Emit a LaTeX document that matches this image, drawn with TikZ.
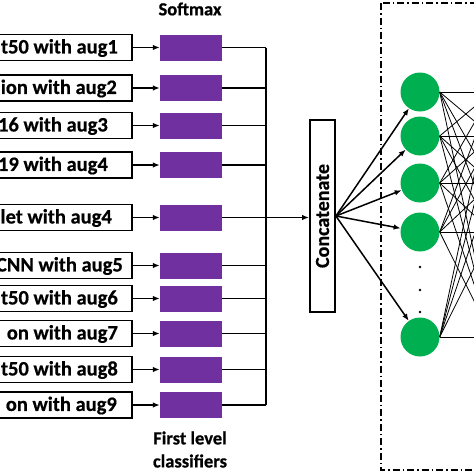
\documentclass[tikz,border=0pt]{standalone}
\usepackage{fontspec}
\setmainfont{Carlito}[BoldFeatures={FakeBold=0.6}]
\usetikzlibrary{arrows.meta}
\definecolor{softpurple}{HTML}{7030A0}
\definecolor{neurongreen}{HTML}{00B050}
\begin{document}
\begin{tikzpicture}[x=1pt,y=-1pt,
  inbox/.style={draw=black,line width=1.8pt,minimum width=220pt,minimum height=26pt,inner sep=0pt,anchor=east},
  boxtext/.style={anchor=east,inner sep=0pt,font=\fontsize{20.5}{24}\selectfont\bfseries},
  soft/.style={fill=softpurple,minimum width=62pt,minimum height=26pt,inner sep=0pt},
  arr/.style={line width=1.5pt,-{Latex[length=7pt,width=5.5pt]}},
  busline/.style={line width=1.5pt},
  neuron/.style={circle,fill=neurongreen,minimum size=39pt,inner sep=0pt},
  dotnode/.style={circle,fill=black,minimum size=2.6pt,inner sep=0pt},
  fc/.style={line width=0.8pt},
  lbl/.style={font=\fontsize{18.5}{22}\selectfont\bfseries,inner sep=0pt},
  dashdotbox/.style={line width=1.8pt,dash pattern=on 7pt off 3pt on 1.5pt off 3pt}
]
\useasboundingbox (0,0) rectangle (474,474);
\clip (0,0) rectangle (474,474);

% input boxes
\node[inbox] (b1) at (133,47.5) {};
\node[inbox] (b2) at (133,88) {};
\node[inbox] (b3) at (133,125.5) {};
\node[inbox] (b4) at (133,165) {};
\node[inbox] (b5) at (133,217.5) {};
\node[inbox] (b6) at (133,265.5) {};
\node[inbox] (b7) at (133,298.5) {};
\node[inbox] (b8) at (133,333.5) {};
\node[inbox] (b9) at (133,369.5) {};
\node[inbox] (b10) at (133,405) {};

\node[boxtext] (t1) at (118,48) {t50 with aug1};
\node[boxtext] (t2) at (117,88.5) {ion with aug2};
\node[boxtext] (t3) at (108,126) {16 with aug3};
\node[boxtext] (t4) at (108,165.5) {19 with aug4};
\node[boxtext] (t5) at (112,218) {let with aug4};
\node[boxtext] (t6) at (123,266) {CNN with aug5};
\node[boxtext] (t7) at (118,299) {t50 with aug6};
\node[boxtext] (t8) at (118,334) {on with aug7};
\node[boxtext] (t9) at (118,370) {t50 with aug8};
\node[boxtext] (t10) at (117,405.5) {on with aug9};

% softmax boxes
\foreach \i/\y in {1/47.5,2/88,3/125.5,4/165,5/217.5,6/265.5,7/298.5,8/333.5,9/369.5,10/405}{
  \node[soft] (s\i) at (191,\y) {};
}
\foreach \i in {1,...,10}{
  \draw[arr] (b\i.east) -- (s\i.west);
}

% labels
\node[lbl] (softlbl) at (190,9) {Softmax};
\node[lbl] (fl1) at (190,438) {First level};
\node[lbl] (fl2) at (190,461) {classifiers};

% concatenate
\node[draw=black,line width=1.8pt,minimum width=25pt,minimum height=192pt,inner sep=0pt,
  font=\fontsize{20}{24}\selectfont\bfseries] (cc) at (322.5,216) {\rotatebox{90}{Concatenate}};

% bus
\coordinate (busx) at (266,0);
\foreach \i in {1,2,3,4,6,7,8,9,10}{
  \draw[busline] (s\i.east) -- (s\i.east -| busx);
}
\draw[busline,line cap=square] (s1.east -| busx) -- (s10.east -| busx);
\draw[arr] (s5.east) -- (s5.east -| cc.west);

% network box
\draw[dashdotbox] (381,3) rectangle (520,470);

% neurons
\node[neuron] (n1) at (420,92) {};
\node[neuron] (n2) at (420,136) {};
\node[neuron] (n3) at (420,183) {};
\node[neuron] (n4) at (420,232) {};
\node[neuron] (n5) at (420,337) {};
\node[dotnode] (d1) at (420,267) {};
\node[dotnode] (d2) at (420,290) {};
\node[dotnode] (d3) at (420,312) {};

\foreach \i in {1,...,5}{
  \draw[arr] (cc.east) -- (n\i);
}

% next layer (outside the frame)
\coordinate (m1) at (492,92);
\coordinate (m2) at (492,136);
\coordinate (m3) at (492,183);
\coordinate (m4) at (492,232);
\coordinate (m5) at (492,337);
\foreach \i in {1,...,5}{
  \foreach \j in {1,...,5}{
    \draw[fc] (n\i.east) -- (m\j);
  }
}
\end{tikzpicture}
\end{document}
